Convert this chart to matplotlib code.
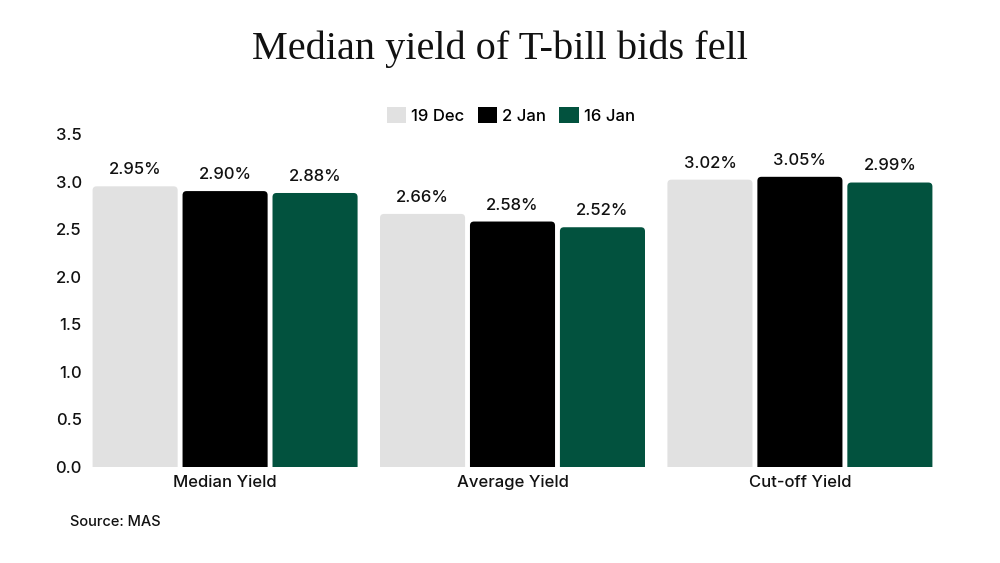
import matplotlib
matplotlib.use('Agg')
import matplotlib.pyplot as plt
from matplotlib.patches import FancyBboxPatch, Rectangle
import numpy as np

# data
categories = ['Median Yield', 'Average Yield', 'Cut-off Yield']
series_names = ['19 Dec', '2 Jan', '16 Jan']
dec19 = [2.95, 2.66, 3.02]
jan2 = [2.90, 2.58, 3.05]
jan16 = [2.88, 2.52, 2.99]
yticks = [0.0, 0.5, 1.0, 1.5, 2.0, 2.5, 3.0, 3.5]

colors = ['#e1e1e1', '#000000', '#02523e']
sans = 'Inter'
fw = 'medium'

fig = plt.figure(figsize=(10, 5.63), dpi=100)
ax = fig.add_axes([0.09, 0.1705, 0.845, 0.5915])

x = np.arange(len(categories))
step = 0.313
width = 0.296
# rounded top corners, bottom part hidden below the axis (clipped)
rad = 0.014
aspect = (0.845 * 1000 / 2.94) / (0.5915 * 563 / 3.5)
below = 0.3

for i, vals in enumerate([dec19, jan2, jan16]):
    for j, v in enumerate(vals):
        x0 = x[j] + (i - 1) * step - width / 2
        ax.add_patch(FancyBboxPatch((x0, -below), width, v + below,
                                    boxstyle='round,pad=0,rounding_size=%g' % rad,
                                    mutation_aspect=aspect, fc=colors[i], ec='none'))
        ax.annotate('%.2f%%' % v, (x[j] + (i - 1) * step, v), xytext=(0, 6.5),
                    textcoords='offset points', ha='center', va='bottom',
                    fontsize=12, family=sans, weight=fw, color='#111111')

ax.set_xlim(-0.47, 2.47)
ax.set_ylim(0, 3.5)
ax.set_yticks(yticks)
ax.set_yticklabels(['%.1f' % t for t in yticks], fontsize=12, family=sans, weight=fw)
ax.set_xticks(x)
ax.set_xticklabels(categories, fontsize=12, family=sans, weight=fw)
ax.tick_params(axis='both', length=0, pad=6, colors='#111111')
for s in ax.spines.values():
    s.set_visible(False)

# legend
handles = [Rectangle((0, 0), 1, 1, fc=c, ec='none') for c in colors]
fig.legend(handles, series_names, loc='center', bbox_to_anchor=(0.511, 0.795), ncol=3,
           frameon=False, prop={'family': sans, 'size': 12, 'weight': fw}, handlelength=1.15,
           handleheight=1.15, handletextpad=0.3, columnspacing=0.8)

fig.text(0.5, 0.912, 'Median yield of T-bill bids fell', ha='center', va='center',
         fontsize=29, family='Liberation Serif', color='#111111')
fig.text(0.07, 0.073, 'Source: MAS', ha='left', va='center', fontsize=10.5,
         family=sans, weight=fw, color='#111111')

fig.savefig('out.png', dpi=100, facecolor='white')
